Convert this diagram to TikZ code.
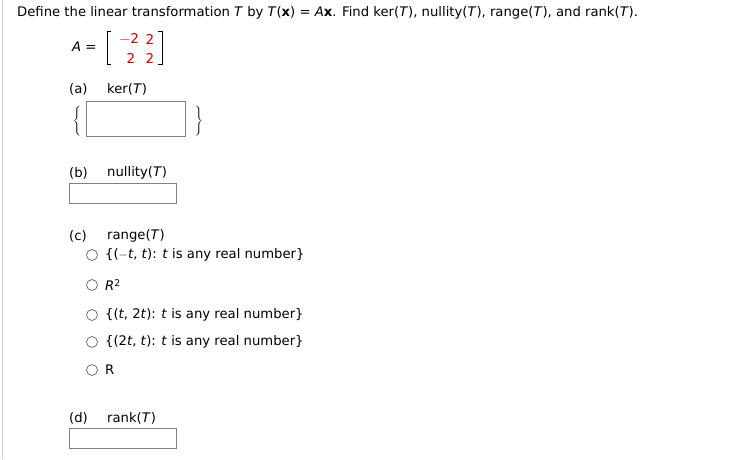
\documentclass[tikz,border=0pt]{standalone}
\usepackage{fontspec}
\setmainfont{DejaVu Sans}
\begin{document}
\begin{tikzpicture}[x=1pt,y=-1pt,
  txt/.style={anchor=west,inner sep=0,font=\fontsize{13.2}{15}\selectfont},
  num/.style={inner sep=0,text=red!80!black,font=\fontsize{13.5}{15}\selectfont},
  box/.style={draw=gray,fill=white,line width=0.8pt},
  brace/.style={inner sep=0,font=\fontsize{13}{15}\selectfont},
  radio/.style={draw=gray!90!black,circle,minimum size=11pt,inner sep=0,line width=0.8pt}]
\useasboundingbox (0,0) rectangle (753,459);
\draw[gray!40,line width=1pt] (2,0) -- (2,459);
\node[txt] (title) at (17,13) {Define the linear transformation \textit{T} by \textit{T}(\textbf{x}) = \textit{A}\textbf{x}. Find ker(\textit{T}), nullity(\textit{T}), range(\textit{T}), and rank(\textit{T}).};
\node[txt] (Aeq) at (72,47) {\textit{A} =};
\draw[line width=0.6pt] (111,31) -- (107,31) -- (107,64) -- (111,64);
\draw[line width=0.6pt] (158,31) -- (162,31) -- (162,64) -- (158,64);
\node[num] (m11) at (129,39) {$-$2};
\node[num] (m12) at (150,39) {2};
\node[num] (m21) at (131,58) {2};
\node[num] (m22) at (150,58) {2};
\node[txt] (la) at (69,89) {(a)};
\node[txt] (lat) at (107,89) {ker(\textit{T})};
\node[brace] (lb) at (77,121) {$\Bigg\{$};
\draw[box] (86,101) rectangle (185,136);
\node[brace] (rb) at (199,121) {$\Bigg\}$};
\node[txt] (lbb) at (69,173) {(b)};
\node[txt] (lbt) at (107,173) {nullity(\textit{T})};
\draw[box] (69,183) rectangle (176,203);
\node[txt] (lc) at (69,236) {(c)};
\node[txt] (lct) at (107,236) {range(\textit{T})};
\foreach \y/\t/\n in {255/{\{($-$\textit{t}, \textit{t}): \textit{t} is any real number\}}/o1,
  285/{\textit{R}\textsuperscript{2}}/o2,
  315/{\{(\textit{t}, 2\textit{t}): \textit{t} is any real number\}}/o3,
  342/{\{(2\textit{t}, \textit{t}): \textit{t} is any real number\}}/o4,
  370/{R}/o5}{
  \node[radio] (r\n) at (92,\y) {};
  \node[txt] (\n) at (105,\y) {\t};
}
\node[txt] (ld) at (69,418) {(d)};
\node[txt] (ldt) at (107,418) {rank(\textit{T})};
\draw[box] (69,428) rectangle (176,448);
\end{tikzpicture}
\end{document}
